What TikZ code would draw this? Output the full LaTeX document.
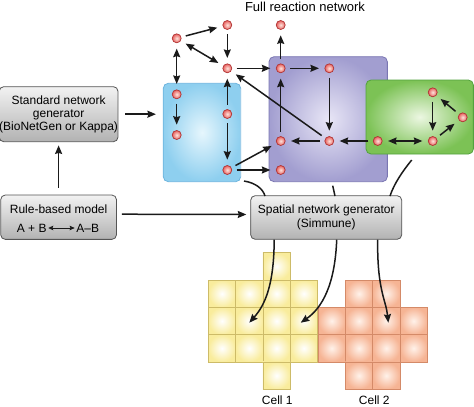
\documentclass[tikz,border=0pt]{standalone}
\usepackage{fontspec}
\setmainfont{Liberation Sans}
\usetikzlibrary{arrows.meta}
\definecolor{noderim}{HTML}{B03434}
\definecolor{nodeout}{HTML}{E8605E}
\definecolor{nodein}{HTML}{FDE4DC}
\definecolor{ink}{HTML}{1A1A1A}
\definecolor{bluein}{HTML}{E6F6FD}
\definecolor{blueout}{HTML}{8ECFEF}
\definecolor{bluerim}{HTML}{6CB4DE}
\definecolor{purpin}{HTML}{E8E6F6}
\definecolor{purpout}{HTML}{A29ED0}
\definecolor{purprim}{HTML}{7A76B2}
\definecolor{greenin}{HTML}{ECF7E2}
\definecolor{greenout}{HTML}{7CC255}
\definecolor{greenrim}{HTML}{52A23E}
\definecolor{graytop}{HTML}{F2F2F2}
\definecolor{graybot}{HTML}{B2B2B2}
\definecolor{grayrim}{HTML}{555555}
\definecolor{yelout}{HTML}{F9EC9C}
\definecolor{yelrim}{HTML}{CDBB68}
\definecolor{orout}{HTML}{F6B494}
\definecolor{orin}{HTML}{FFF2EA}
\definecolor{orrim}{HTML}{D48A68}
\tikzset{
  mol/.style={circle, minimum size=9pt, inner sep=0pt, draw=noderim, line width=0.7pt, inner color=nodein, outer color=nodeout},
  tip/.style={-{Stealth[length=8.5pt,width=7pt,inset=1pt]}},
  arr/.style={tip, draw=ink, line width=1.5pt, shorten >=5.5pt, shorten <=4.5pt},
  darr/.style={{Stealth[length=8.5pt,width=7pt,inset=1pt]}-{Stealth[length=8.5pt,width=7pt,inset=1pt]}, draw=ink, line width=1.5pt, shorten >=5.5pt, shorten <=5.5pt},
  netbox/.style={rectangle, rounded corners=5pt, inner sep=0pt, line width=0.8pt},
  graybox/.style={rectangle, rounded corners=4.5pt, inner sep=0pt, draw=grayrim, line width=0.8pt, top color=graytop, bottom color=graybot, font=\fontsize{12}{13.3}\selectfont, align=center},
  txt/.style={inner sep=0pt, font=\fontsize{12}{13.3}\selectfont},
  link/.style={draw=ink, line width=1.5pt},
  ycell/.style={draw=yelrim, line width=0.7pt, inner color=white, outer color=yelout},
  ocell/.style={draw=orrim, line width=0.7pt, inner color=orin, outer color=orout},
}
\begin{document}
\begin{tikzpicture}[x=1pt,y=-1pt]
\useasboundingbox (0,0) rectangle (474,407);

% title
\node[txt, font=\fontsize{13}{14}\selectfont, anchor=base] (title) at (305,11.5) {Full reaction network};

% compartments
\node[netbox, draw=bluerim, inner color=bluein, outer color=blueout, minimum width=77.4pt, minimum height=98.4pt] (blue) at (202,132.5) {};
\node[netbox, draw=purprim, inner color=purpin, outer color=purpout, minimum width=118.3pt, minimum height=125pt] (purple) at (328.2,119.2) {};
\node[netbox, draw=greenrim, inner color=greenin, outer color=greenout, minimum width=107.3pt, minimum height=74pt] (green) at (419.7,117) {};

% gray boxes
\node[graybox, minimum width=115.7pt, minimum height=55pt] (std) at (58.6,114.2) {Standard network\\generator\\(BioNetGen or Kappa)};
\node[graybox, minimum width=115.7pt, minimum height=44.3pt] (rule) at (58.6,217.2) {};
\node[txt, anchor=base] (ruletxt) at (58.6,213.5) {Rule-based model};
\node[txt, anchor=base] (ab) at (31.7,232) {A + B};
\node[txt, anchor=base] (abc) at (87.7,232) {A–B};
\node[graybox, minimum width=151pt, minimum height=43.6pt] (spatial) at (326.2,217.5) {Spatial network generator\\(Simmune)};

% molecules
\node[mol] (a1) at (176.7,38.3) {};
\node[mol] (a2) at (227.3,25) {};
\node[mol] (a3) at (227.3,68.3) {};
\node[mol] (a4) at (280.7,25) {};
\node[mol] (a5) at (280.7,68.3) {};
\node[mol] (a6) at (329.3,68.3) {};
\node[mol] (a7) at (176.7,94.3) {};
\node[mol] (a8) at (176.7,135) {};
\node[mol] (a9) at (227.3,114) {};
\node[mol] (a10) at (227.3,170) {};
\node[mol] (a11) at (280.7,141) {};
\node[mol] (a12) at (280.7,170) {};
\node[mol] (a13) at (329.3,141) {};
\node[mol] (a14) at (377.7,141) {};
\node[mol] (a15) at (432.7,141) {};
\node[mol] (a16) at (432.7,92.3) {};
\node[mol] (a17) at (462.7,117.3) {};

% reactions
\draw[arr] (a1) -- (a2);
\draw[darr] (a1) -- (a3);
\draw[arr] (a2) -- (a3);
\draw[darr] (a1) -- (a7);
\draw[arr] (a7) -- (a8);
\draw[arr] (a9) -- (a3);
\draw[arr] (a9) -- (a10);
\draw[arr] (a3) -- (a5);
\draw[arr] (a5) -- (a4);
\draw[arr] (a5) -- (a6);
\draw[arr] (a6) -- (a13);
\draw[arr] (a13) -- (a11);
\draw[arr] (a11) -- (a5);
\draw[arr] (a13) -- (a3);
\draw[arr] (a14) -- (a13);
\draw[darr] (a14) -- (a15);
\draw[arr] (a16) -- (a15);
\draw[arr] (a15) -- (a17);
\draw[arr] (a17) -- (a16);
\draw[arr] (a10) -- (a11);
\draw[arr] (a10) -- (a12);

% generator arrows
\draw[arr, shorten <=7pt, shorten >=7pt] (std.east) -- (std.east -| blue.west);
\draw[arr, shorten <=7pt, shorten >=3.3pt] (rule.north) -- (std.south);
\draw[arr, shorten <=5pt, shorten >=4pt] ([yshift=3pt]rule.east) -- ([yshift=3pt]spatial.west);
\draw[{Stealth[length=5pt,width=4.5pt,inset=0.8pt]}-{Stealth[length=5pt,width=4.5pt,inset=0.8pt]}, draw=ink, line width=0.8pt, shorten <=1.5pt, shorten >=1.5pt] ([yshift=4pt]ab.base east) -- ([yshift=4pt]abc.base west);

% links from network to spatial generator
\coordinate (s1) at (244,181);
\coordinate (e1) at (265,196);
\coordinate (s2) at (332.7,185.7);
\coordinate (e2) at (335,196);
\coordinate (s3) at (411.7,160);
\coordinate (e3) at (390,196);
\draw[link] (s1) .. controls (256,183) and (263,189) .. (e1);
\draw[link] (s2) .. controls (334,190) .. (e2);
\draw[link] (s3) .. controls (402,172) and (394,184) .. (e3);

% cells
\foreach \c/\r in {2/0, 0/1,1/1,2/1,3/1, 0/2,1/2,2/2,3/2, 0/3,1/3,2/3,3/3, 2/4}
  \path[ycell] (208.3+27.3*\c, 252.7+27.3*\r) rectangle ++(27.3,27.3);
\foreach \c/\r in {1/1,2/1, 0/2,1/2,2/2,3/2, 0/3,1/3,2/3,3/3, 1/4,2/4}
  \path[ocell] (318+27.3*\c, 252.7+27.3*\r) rectangle ++(27.3,27.3);
\node[txt, anchor=base] (cell1) at (277.3,404) {Cell 1};
\node[txt, anchor=base] (cell2) at (374.3,404) {Cell 2};

% arrows into cells
\coordinate (t1) at (249.3,322.7);
\coordinate (t2) at (300.7,322.7);
\coordinate (t3) at (388.3,322.7);
\draw[link, tip] ([xshift=-52pt]spatial.south) .. controls (274,285) and (265,305) .. (t1);
\draw[link, tip] ([xshift=10.5pt]spatial.south) .. controls (335,285) and (322,308) .. (t2);
\draw[link, tip] ([xshift=51.5pt]spatial.south) .. controls (377,290) and (386,300) .. (t3);
\end{tikzpicture}
\end{document}
